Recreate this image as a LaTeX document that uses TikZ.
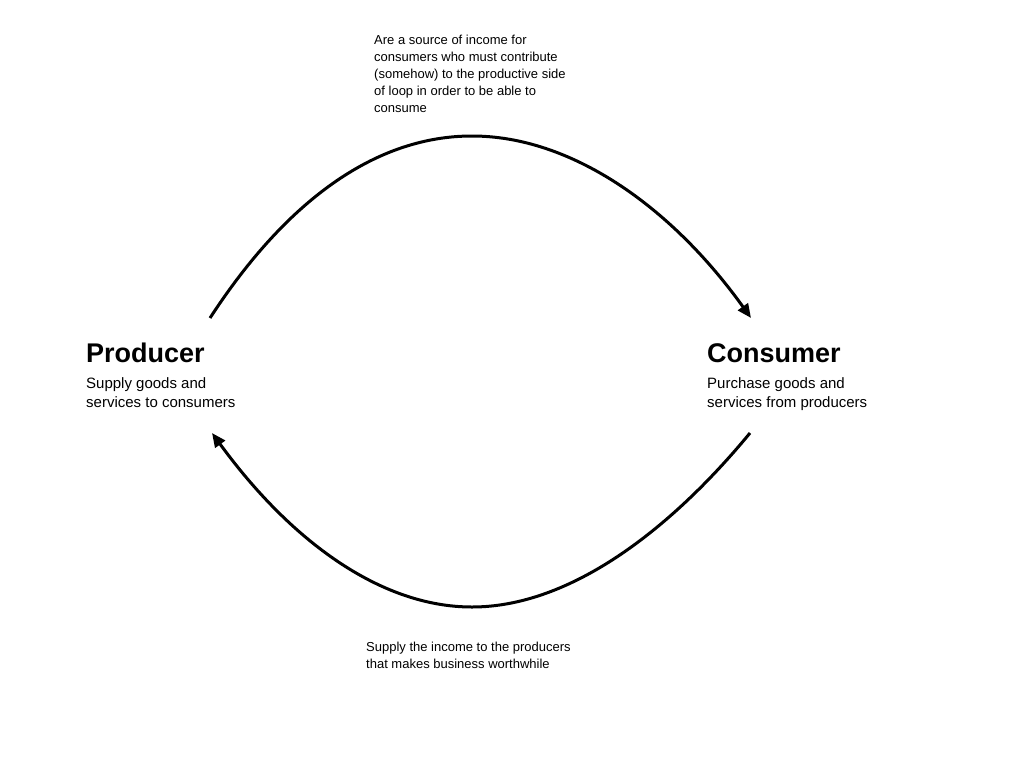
\documentclass[tikz,border=0pt]{standalone}
\usepackage{fontspec}
\setmainfont{Liberation Sans}
\usetikzlibrary{arrows.meta}
\begin{document}
\begin{tikzpicture}[x=1pt,y=-1pt,
  flow/.style={line width=3pt,-{Triangle[length=14pt,width=12pt]}},
  title/.style={anchor=north west,inner sep=0pt,font=\fontsize{27}{30}\selectfont\bfseries},
  sub/.style={anchor=north west,inner sep=0pt,align=left,font=\fontsize{15}{19}\selectfont},
  note/.style={anchor=north west,inner sep=0pt,align=left,font=\fontsize{13}{17}\selectfont}]
\useasboundingbox (0,0) rectangle (1024,768);
\node[title] (pt) at (86,343) {Producer};
\node[sub] (ps) at (86,377) {Supply goods and\\services to consumers};
\node[title] (ct) at (707,343) {Consumer};
\node[sub] (cs) at (707,377) {Purchase goods and\\services from producers};
\node[note] (tn) at (374,35) {Are a source of income for\\consumers who must contribute\\(somehow) to the productive side\\of loop in order to be able to\\consume};
\node[note] (bn) at (366,642) {Supply the income to the producers\\that makes business worthwhile};
\coordinate (a1) at (210,318);
\coordinate (a2) at (472,136);
\coordinate (a3) at (751,318);
\coordinate (b1) at (750,433);
\coordinate (b2) at (472,607);
\coordinate (b3) at (212,433);
\draw[flow] (a1) .. controls (290,195) and (380,136) .. (a2) .. controls (570,136) and (670,205) .. (a3);
\draw[flow] (b1) .. controls (670,530) and (570,607) .. (b2) .. controls (380,607) and (290,540) .. (b3);
\end{tikzpicture}
\end{document}
